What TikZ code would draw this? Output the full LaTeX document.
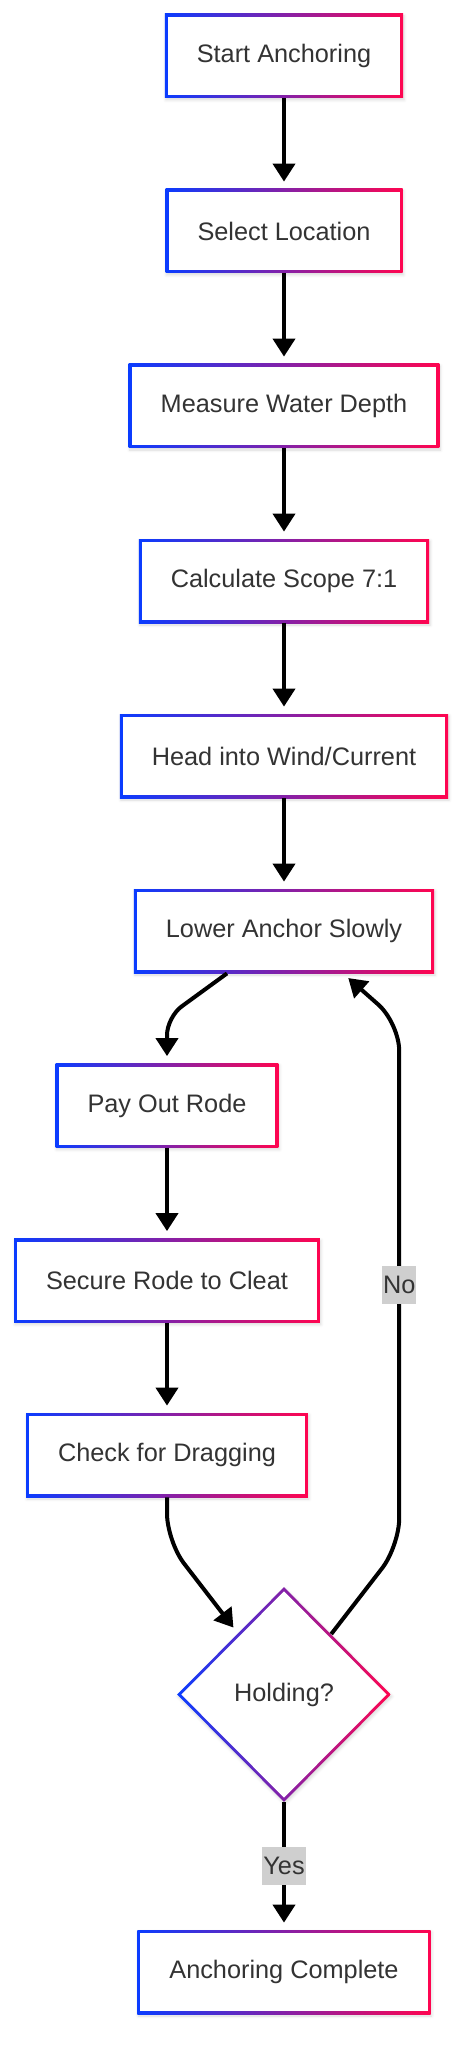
\documentclass[tikz,border=0pt]{standalone}
\usepackage{fontspec}
\setmainfont{Liberation Sans}
\usetikzlibrary{arrows.meta}
\usetikzlibrary{shapes.geometric}
\usetikzlibrary{shadows.blur}
\definecolor{edgeblue}{RGB}{10,60,255}
\definecolor{edgered}{RGB}{255,5,80}
\definecolor{inkgray}{HTML}{333333}
\tikzset{stepbox/.style = {rectangle, minimum height=42pt, inner xsep=16pt, inner ysep=0pt,
                           text=inkgray, font=\fontsize{12.65pt}{15pt}\selectfont,
                           blur shadow={shadow xshift=0.5pt, shadow yshift=-1pt,
                                        shadow blur radius=1.5pt, shadow opacity=15},
                           path picture={
                             \shade [left color=edgeblue, right color=edgered]
                               (path picture bounding box.south west) rectangle (path picture bounding box.north east);
                             \fill [white] ([shift={(1.5pt,1.5pt)}]path picture bounding box.south west)
                               rectangle ([shift={(-1.5pt,-1.5pt)}]path picture bounding box.north east);
                           }}}
\tikzset{decision/.style = {diamond, aspect=1, minimum width=107pt, minimum height=107.5pt, inner sep=0pt,
                            text=inkgray, font=\fontsize{12.65pt}{15pt}\selectfont,
                            blur shadow={shadow xshift=0.5pt, shadow yshift=-1pt,
                                         shadow blur radius=1.5pt, shadow opacity=15},
                            path picture={
                              \shade [left color=edgeblue, right color=edgered]
                                (path picture bounding box.south west) rectangle (path picture bounding box.north east);
                              \fill [white] ([yshift=-2.1pt]path picture bounding box.north)
                                -- ([xshift=-2.1pt]path picture bounding box.east)
                                -- ([yshift=2.1pt]path picture bounding box.south)
                                -- ([xshift=2.1pt]path picture bounding box.west) -- cycle;
                            }}}
\tikzset{flow/.style = {-{Triangle[width=11pt, length=9pt]}, line width=2pt, shorten >=3.5pt}}
\tikzset{edgelabel/.style = {sharp corners, fill=gray!38, text=inkgray, inner xsep=0.5pt, inner ysep=0pt,
                             minimum height=19pt, font=\fontsize{12.65pt}{15pt}\selectfont}}

\begin{document}
\begin{tikzpicture}[x=0.5pt, y=-0.5pt]
      \useasboundingbox (0, 0) rectangle (467, 2048);

      \node [stepbox] (start) at (284, 56) {Start Anchoring};
      \node [stepbox] (select) at (284, 231) {Select Location};
      \node [stepbox] (measure) at (284, 406) {Measure Water Depth};
      \node [stepbox] (calc) at (284, 581) {Calculate Scope 7:1};
      \node [stepbox] (head) at (284, 756) {Head into Wind/Current};
      \node [stepbox] (lower) at (284, 931) {Lower Anchor Slowly};
      \node [stepbox] (pay) at (167, 1105.5) {Pay Out Rode};
      \node [stepbox] (secure) at (167, 1280.5) {Secure Rode to Cleat};
      \node [stepbox] (check) at (167, 1455) {Check for Dragging};
      \node [decision] (holding) at (284, 1694.5) {Holding?};
      \node [stepbox] (done) at (284, 1972) {Anchoring Complete};

      \foreach \a/\b in {start/select, select/measure, measure/calc, calc/head,
                         head/lower, pay/secure, secure/check} {
        \draw [flow] (\a) -- (\b);
      };
      \draw [flow, rounded corners=9pt] ([xshift=-28.5pt]lower.south) -- ([yshift=23pt]pay.north) -- (pay.north);
      \draw [flow, rounded corners=14pt] (check.south) -- ([yshift=-22pt]check.south) -- (holding.127);
      \draw [flow, rounded corners=14pt] (holding.52) -- ++(68, -88) -- ++(0, -523) node [edgelabel, midway] {No}
        -- ([xshift=29.5pt]lower.south);
      \draw [flow] (holding) -- node [edgelabel] {Yes} (done);
    \end{tikzpicture}
\end{document}
